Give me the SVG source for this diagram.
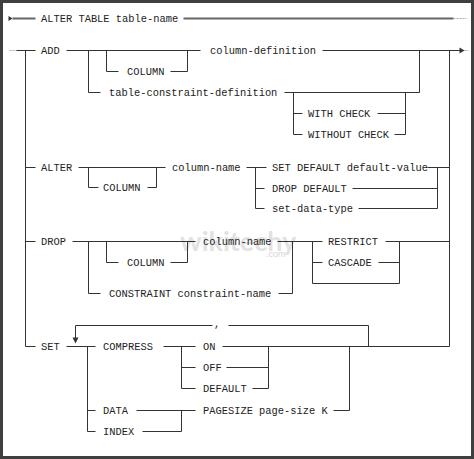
<svg xmlns="http://www.w3.org/2000/svg" width="474" height="459" viewBox="0 0 474 459">
<style>
.l{stroke:#333;stroke-width:1;fill:none;stroke-linejoin:round}
.g{stroke:#aaa;stroke-width:1;fill:none;stroke-dasharray:2 1}
.t{font-family:"Liberation Mono","DejaVu Sans Mono",monospace;font-size:10.4px;fill:#222}
.a{fill:#333}
</style>
<rect x="0" y="0" width="474" height="459" fill="#fff"/>
<g id="watermark">
<text x="180" y="251" font-family="Lato,'DejaVu Sans',sans-serif" font-weight="bold" font-size="27" fill="#e2e2e2">wikitechy</text>
<text x="266" y="257" font-family="'Liberation Sans',sans-serif" font-size="9" fill="#d4d4d4">.com</text>
</g>
<g id="connectors" transform="translate(0.5,0.5)">
<path d="M12,18 H35 M183,18 H453" stroke="#666" stroke-width="2" fill="none"/>
<path class="g" d="M453,18 H466 M9,50 H16 M464,50 H468"/>
<path class="a" d="M8,15.5 L12,18 L8,20.5 Z"/>
<path class="l" d="M16,50 H35 M25,50 V346 H35 M25,167 H35 M25,241 H35"/>
<!-- ADD -->
<path class="l" d="M66,50 H200 M88,50 V92 H100 M106,50 V71 H118 M170,71 H187 V50 M322,50 H460 M284,92 H419 V50"/>
<path class="a" d="M459,47 L464,50 L459,53 Z"/>
<path class="l" d="M293,92 V134 H302 M293,113 H302 M377,113 H405 M394,134 H405 V92"/>
<!-- ALTER -->
<path class="l" d="M78,167 H165 M88,167 V187 H98 M147,187 H156 V167 M246,167 H266 M255,167 V208 H264 M255,188 H264 M427,167 H449 M352,188 H437 M358,208 H437 V167"/>
<!-- DROP -->
<path class="l" d="M72,241 H195 M88,241 V293 H100 M278,293 H292 V241 M106,241 V262 H118 M170,262 H187 V241 M277,241 H322 M312,241 V283 H399 V241 M312,262 H322 M385,241 H449 M378,262 H399"/>
<!-- SET -->
<path class="l" d="M66,346 H95 M87,346 V431 H95 M87,410 H95 M163,346 H195 M181,346 V388 H195 M181,367 H195 M222,346 H449 V50 M226,367 H268 M268,346 V388 H252 M136,410 H195 M181,410 V431 H142 M333,410 H349 V346"/>
<path class="l" d="M368,346 V325 H228 M212,325 H75 V338"/>
<path class="a" d="M72,337 L78,337 L75,343 Z"/>
</g>
<g id="n-alter-table"><text class="t" x="41" y="21.5">ALTER TABLE table-name</text></g>
<g id="n-add"><text class="t" x="41" y="53.5">ADD</text></g>
<g id="n-add-column"><text class="t" x="127" y="74.5">COLUMN</text></g>
<g id="n-column-definition"><text class="t" x="210" y="53.5">column-definition</text></g>
<g id="n-table-constraint"><text class="t" x="109" y="95.5">table-constraint-definition</text></g>
<g id="n-with-check"><text class="t" x="308" y="116.5">WITH CHECK</text></g>
<g id="n-without-check"><text class="t" x="308" y="137.5">WITHOUT CHECK</text></g>
<g id="n-alter"><text class="t" x="41" y="170.5">ALTER</text></g>
<g id="n-alter-column"><text class="t" x="103" y="190.5">COLUMN</text></g>
<g id="n-alter-column-name"><text class="t" x="172" y="170.5">column-name</text></g>
<g id="n-set-default"><text class="t" x="272" y="170.5">SET DEFAULT default-value</text></g>
<g id="n-drop-default"><text class="t" x="272" y="191.5">DROP DEFAULT</text></g>
<g id="n-set-data-type"><text class="t" x="272" y="211.5">set-data-type</text></g>
<g id="n-drop"><text class="t" x="41" y="244.5">DROP</text></g>
<g id="n-drop-column"><text class="t" x="127" y="265.5">COLUMN</text></g>
<g id="n-drop-column-name"><text class="t" x="203" y="244.5">column-name</text></g>
<g id="n-constraint"><text class="t" x="109" y="296.5">CONSTRAINT constraint-name</text></g>
<g id="n-restrict"><text class="t" x="328" y="244.5">RESTRICT</text></g>
<g id="n-cascade"><text class="t" x="328" y="265.5">CASCADE</text></g>
<g id="n-comma"><text class="t" x="214" y="327">,</text></g>
<g id="n-set"><text class="t" x="41" y="349.5">SET</text></g>
<g id="n-compress"><text class="t" x="103" y="349.5">COMPRESS</text></g>
<g id="n-on"><text class="t" x="203" y="349.5">ON</text></g>
<g id="n-off"><text class="t" x="203" y="370.5">OFF</text></g>
<g id="n-default"><text class="t" x="203" y="391.5">DEFAULT</text></g>
<g id="n-data"><text class="t" x="103" y="413.5">DATA</text></g>
<g id="n-index"><text class="t" x="103" y="434.5">INDEX</text></g>
<g id="n-pagesize"><text class="t" x="203" y="413.5">PAGESIZE page-size K</text></g>
<rect x="1.5" y="1.5" width="471" height="456" fill="none" stroke="#3f3f3f" stroke-width="3"/>
</svg>
